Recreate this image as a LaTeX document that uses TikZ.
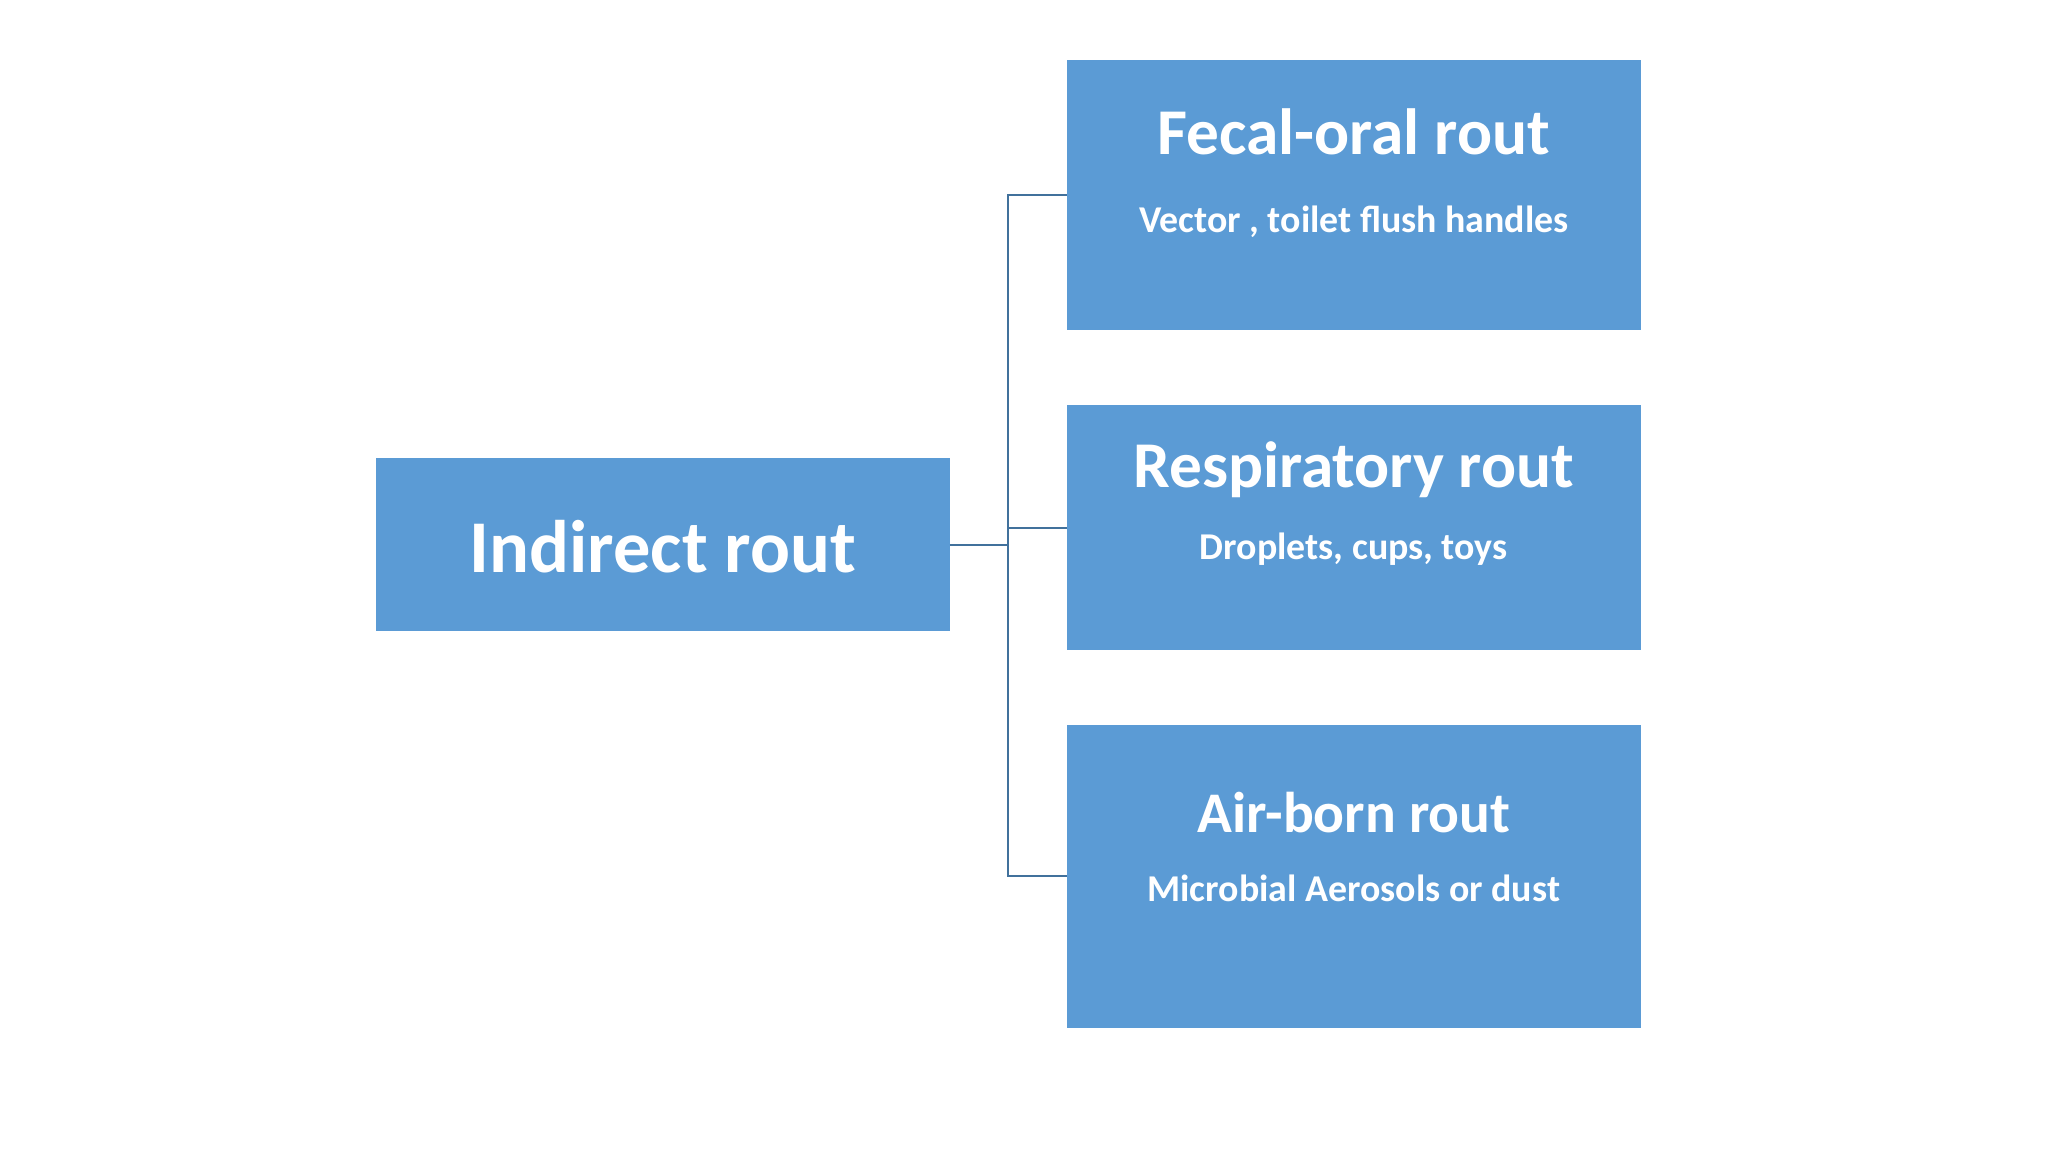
\documentclass[tikz,border=0pt]{standalone}
\usepackage{fontspec}
\setmainfont{Carlito}
\definecolor{boxblue}{HTML}{5B9BD5}
\definecolor{linec}{HTML}{41719C}
\begin{document}
\begin{tikzpicture}[x=1pt,y=-1pt,
  box/.style={fill=boxblue,draw=none,inner sep=0pt},
  conn/.style={draw=linec,line width=1.5pt},
  ttl/.style={text=white,font=\bfseries\fontsize{50}{56}\selectfont,anchor=base},
  sub/.style={text=white,font=\bfseries\fontsize{29}{34}\selectfont,anchor=base}]
\useasboundingbox (0,0) rectangle (1568,882);
\node[box,minimum width=439pt,minimum height=132pt] (ind) at (507.5,417) {};
\node[text=white,font=\bfseries\fontsize{57}{64}\selectfont,anchor=base] (indt) at (507.5,438) {Indirect rout};
\node[box,minimum width=439pt,minimum height=207pt] (b1) at (1036.5,149.5) {};
\node[box,minimum width=439pt,minimum height=188pt] (b2) at (1036.5,404) {};
\node[box,minimum width=439pt,minimum height=232pt] (b3) at (1036.5,671) {};
\node[ttl] (t1) at (1036.5,118) {Fecal-oral rout};
\node[sub] (s1) at (1036.5,178) {Vector , toilet flush handles};
\node[ttl] (t2) at (1036.5,373) {Respiratory rout};
\node[sub] (s2) at (1036.5,428) {Droplets, cups, toys};
\node[ttl,font=\bfseries\fontsize{44}{50}\selectfont] (t3) at (1036.5,637) {Air-born rout};
\node[sub] (s3) at (1036.5,690) {Microbial Aerosols or dust};
\coordinate (j) at (772,417);
\draw[conn] (ind.east) -- (j);
\draw[conn] (b1.west) -| (j);
\draw[conn] (b3.west) -| (j);
\draw[conn] (b2.west) -- (772,404);
\end{tikzpicture}
\end{document}
